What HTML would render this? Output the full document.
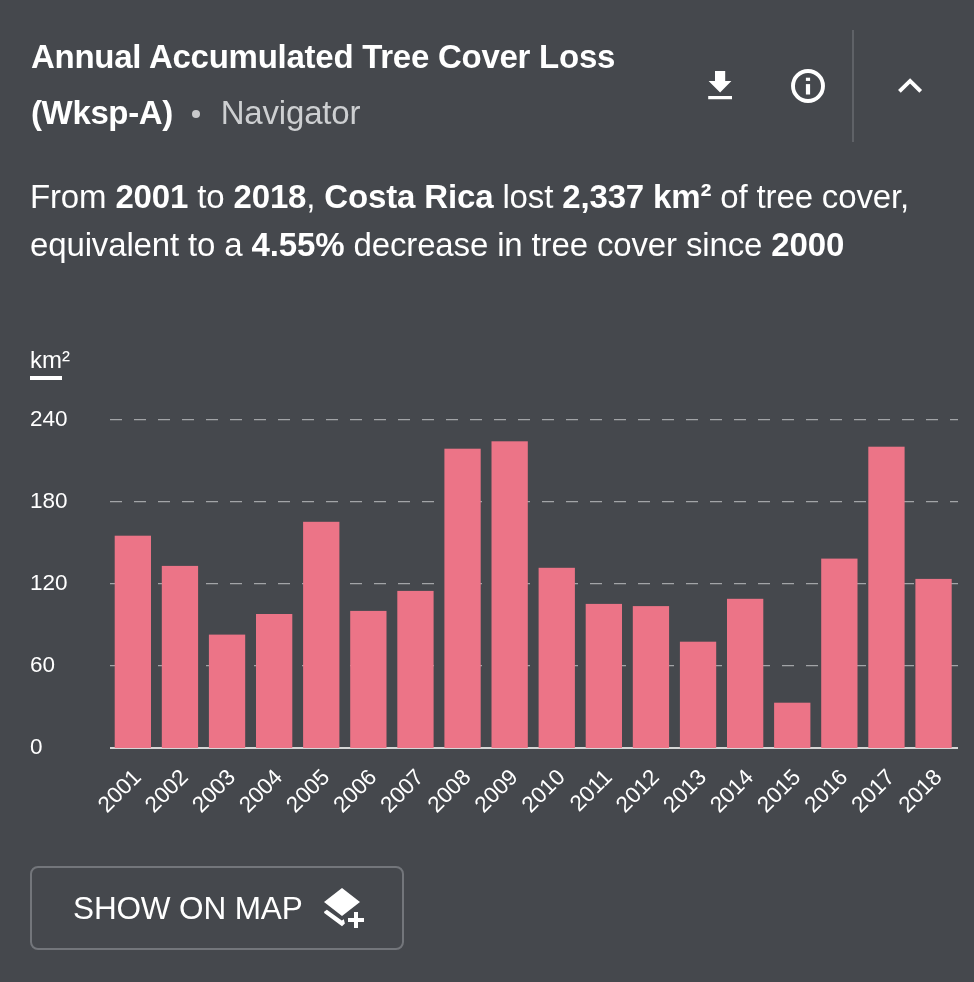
<!DOCTYPE html>
<html><head><meta charset="utf-8">
<style>
html,body{margin:0;padding:0;}
#root{position:absolute;left:0;top:0;width:974px;height:982px;will-change:transform;}
body{width:974px;height:982px;background:#45484d;position:relative;overflow:hidden;font-family:"Liberation Sans",sans-serif;color:#fff;}
.t{position:absolute;white-space:nowrap;transform-origin:0 0;}
.title{font-size:33px;line-height:40px;font-weight:bold;}
.bullet{position:absolute;left:192px;top:110px;width:8.3px;height:8.3px;border-radius:50%;background:#c8c9cb;}
.title.nav{color:#cdcfd1;font-weight:normal;}
.desc{font-size:33px;line-height:40px;}
.desc b{font-weight:bold;}
.divider{position:absolute;left:852px;top:30px;width:2px;height:112px;background:#5f6267;}
.btn{position:absolute;left:30px;top:866px;width:370px;height:80px;border:2px solid #73767b;border-radius:8px;box-sizing:content-box;}
.btn span{position:absolute;left:41px;top:22.7px;font-size:31.5px;line-height:34px;letter-spacing:-0.13px;white-space:nowrap;}
svg{position:absolute;left:0;top:0;}
</style></head><body><div id="root">
<div class="t title" id="t1" style="left:31px;top:36.8px;letter-spacing:-0.26px">Annual Accumulated Tree Cover Loss</div>
<div class="t title" id="t2" style="left:31px;top:92.8px;letter-spacing:-0.37px">(Wksp-A)</div>
<div class="bullet"></div>
<div class="t title nav" id="t3" style="left:220.7px;top:92.8px;letter-spacing:-0.18px">Navigator</div>
<div class="t desc" id="d1" style="left:30px;top:176.6px;letter-spacing:-0.15px">From <b>2001</b> to <b>2018</b>, <b>Costa Rica</b> lost <b>2,337 km²</b> of tree cover,</div>
<div class="t desc" id="d2" style="left:30px;top:224.6px;letter-spacing:-0.14px">equivalent to a <b>4.55%</b> decrease in tree cover since <b>2000</b></div>
<div class="divider"></div>
<svg width="974" height="982" viewBox="0 0 974 982">
  <!-- download icon -->
  <path fill="#fff" d="M715 71H725.2V81H731.4L720.1 92.6L708.6 81H715Z M708.2 96H732V99.2H708.2Z"/>
  <!-- info icon -->
  <circle cx="808" cy="86" r="15" fill="none" stroke="#fff" stroke-width="3.9"/>
  <rect x="805.9" y="77.7" width="4.2" height="3.2" fill="#fff"/>
  <rect x="805.9" y="84.1" width="4.2" height="10.4" fill="#fff"/>
  <!-- chevron -->
  <polyline points="899.4,91.35 910.1,80.9 920.7,91.35" fill="none" stroke="#fff" stroke-width="3.9"/>
  <!-- km2 -->
  <text x="30" y="368" font-size="24" fill="#fff">km²</text>
  <rect x="30" y="376" width="32" height="4" fill="#fff"/>
  <g stroke="#a2a4a7" stroke-width="1.25" stroke-dasharray="12 12"><line x1="110" y1="419.5" x2="958" y2="419.5"/><line x1="110" y1="501.5" x2="958" y2="501.5"/><line x1="110" y1="583.5" x2="958" y2="583.5"/><line x1="110" y1="665.6" x2="958" y2="665.6"/></g>
  <line x1="110" y1="748" x2="958" y2="748" stroke="#d6d6d6" stroke-width="2"/>
  <g fill="#ec7487"><rect x="114.70" y="535.70" width="36.3" height="212.30"/><rect x="161.80" y="565.90" width="36.3" height="182.10"/><rect x="208.90" y="634.60" width="36.3" height="113.40"/><rect x="256.00" y="614.00" width="36.3" height="134.00"/><rect x="303.10" y="521.80" width="36.3" height="226.20"/><rect x="350.20" y="610.90" width="36.3" height="137.10"/><rect x="397.30" y="590.90" width="36.3" height="157.10"/><rect x="444.40" y="448.70" width="36.3" height="299.30"/><rect x="491.50" y="441.30" width="36.3" height="306.70"/><rect x="538.60" y="567.80" width="36.3" height="180.20"/><rect x="585.70" y="603.90" width="36.3" height="144.10"/><rect x="632.80" y="606.10" width="36.3" height="141.90"/><rect x="679.90" y="641.70" width="36.3" height="106.30"/><rect x="727.00" y="598.80" width="36.3" height="149.20"/><rect x="774.10" y="702.70" width="36.3" height="45.30"/><rect x="821.20" y="558.60" width="36.3" height="189.40"/><rect x="868.30" y="446.70" width="36.3" height="301.30"/><rect x="915.40" y="578.90" width="36.3" height="169.10"/></g>
  <g font-size="22.5" fill="#fff"><text x="30" y="426.2">240</text><text x="30" y="508.3">180</text><text x="30" y="590.3">120</text><text x="30" y="672.3">60</text><text x="30" y="754.3">0</text></g>
  <g font-size="22.5" fill="#fff"><text x="131.05" y="767" dy="0.71em" text-anchor="end" transform="rotate(-45 131.05 767)">2001</text><text x="178.15" y="767" dy="0.71em" text-anchor="end" transform="rotate(-45 178.15 767)">2002</text><text x="225.25" y="767" dy="0.71em" text-anchor="end" transform="rotate(-45 225.25 767)">2003</text><text x="272.35" y="767" dy="0.71em" text-anchor="end" transform="rotate(-45 272.35 767)">2004</text><text x="319.45" y="767" dy="0.71em" text-anchor="end" transform="rotate(-45 319.45 767)">2005</text><text x="366.55" y="767" dy="0.71em" text-anchor="end" transform="rotate(-45 366.55 767)">2006</text><text x="413.65" y="767" dy="0.71em" text-anchor="end" transform="rotate(-45 413.65 767)">2007</text><text x="460.75" y="767" dy="0.71em" text-anchor="end" transform="rotate(-45 460.75 767)">2008</text><text x="507.85" y="767" dy="0.71em" text-anchor="end" transform="rotate(-45 507.85 767)">2009</text><text x="554.95" y="767" dy="0.71em" text-anchor="end" transform="rotate(-45 554.95 767)">2010</text><text x="602.05" y="767" dy="0.71em" text-anchor="end" transform="rotate(-45 602.05 767)">2011</text><text x="649.15" y="767" dy="0.71em" text-anchor="end" transform="rotate(-45 649.15 767)">2012</text><text x="696.25" y="767" dy="0.71em" text-anchor="end" transform="rotate(-45 696.25 767)">2013</text><text x="743.35" y="767" dy="0.71em" text-anchor="end" transform="rotate(-45 743.35 767)">2014</text><text x="790.45" y="767" dy="0.71em" text-anchor="end" transform="rotate(-45 790.45 767)">2015</text><text x="837.55" y="767" dy="0.71em" text-anchor="end" transform="rotate(-45 837.55 767)">2016</text><text x="884.65" y="767" dy="0.71em" text-anchor="end" transform="rotate(-45 884.65 767)">2017</text><text x="931.75" y="767" dy="0.71em" text-anchor="end" transform="rotate(-45 931.75 767)">2018</text></g>
  <!-- layers icon -->
  <path fill="#fff" d="M342 888L360 902L342 916L324 902Z"/>
  <path fill="#fff" d="M324.1 911.8L326.9 909.7L341.8 920.5L343.8 919.2L344.9 923.6L342 926.2L324.2 913Z"/>
  <path fill="#fff" d="M354 912H358V918H364V922H358V928H354V922H348V918H354Z"/>
</svg>
<div class="btn"><span>SHOW ON MAP</span></div>
</div></body></html>
